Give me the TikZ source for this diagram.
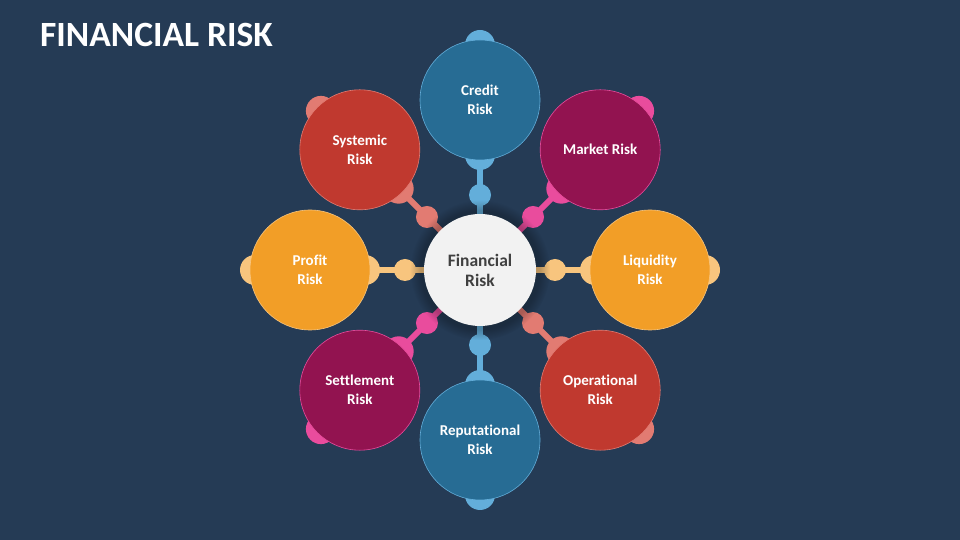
\documentclass[tikz,border=0pt]{standalone}
\usepackage{fontspec}
\setmainfont{Carlito}[Ligatures=NoCommon]
\usetikzlibrary{shadows}
\definecolor{bg}{HTML}{253B55}
\definecolor{mblue}{HTML}{276C94}
\definecolor{lblue}{HTML}{63AEDA}
\definecolor{mred}{HTML}{C0392F}
\definecolor{lred}{HTML}{E27B72}
\definecolor{mmag}{HTML}{921350}
\definecolor{lmag}{HTML}{E94C9D}
\definecolor{morange}{HTML}{F29E27}
\definecolor{lorange}{HTML}{F8C57E}
\definecolor{cwhite}{HTML}{F2F2F2}
\definecolor{ctext}{HTML}{404040}
\begin{document}
\begin{tikzpicture}[x=1pt,y=1pt,
  outer/.style={circle, minimum size=120pt, inner sep=0pt, align=center,
    font=\bfseries\fontsize{15}{19}\selectfont, text=white, line width=0.6pt},
  dotnode/.style={circle, minimum size=22pt, inner sep=0pt},
  blobnode/.style={circle, minimum size=30pt, inner sep=0pt},
  connector/.style={line width=6pt},
  centernode/.style={circle, minimum size=112pt, inner sep=0pt, fill=cwhite, align=center,
    font=\bfseries\fontsize{17.5}{20}\selectfont, text=ctext,
    circular glow={fill=black, opacity=0.25}}
]
\fill[bg] (0,0) rectangle (960,540);
\useasboundingbox (0,0) rectangle (960,540);
\node[anchor=west, inner sep=0pt, font=\bfseries\fontsize{35.5}{40}\selectfont, text=white] (title) at (40,505) {FINANCIAL RISK};
\coordinate (c0) at (480,270);
\def\items{credit/90/mblue/lblue/{Credit\\Risk},
  market/45/mmag/lmag/{Market Risk},
  liquidity/0/morange/lorange/{Liquidity\\Risk},
  operational/-45/mred/lred/{Operational\\Risk},
  reputational/-90/mblue/lblue/{Reputational\\Risk},
  settlement/-135/mmag/lmag/{Settlement\\Risk},
  profit/180/morange/lorange/{Profit\\Risk},
  systemic/135/mred/lred/{Systemic\\Risk}}
\foreach \n/\a/\m/\l/\t in \items {
  \path (c0) ++(\a:170) coordinate (p\n);
}
\foreach \n/\a/\m/\l/\t in \items {
  \draw[connector, \l] (c0) -- (p\n);
  \path (c0) ++(\a:75) node[dotnode, fill=\l] (d\n) {};
  \path (c0) ++(\a:115) node[blobnode, fill=\l] (bi\n) {};
  \path (c0) ++(\a:225) node[blobnode, fill=\l] (bo\n) {};
}
\foreach \n/\a/\m/\l/\t in \items {
  \node[outer, fill=\m, draw=\l] (o\n) at (p\n) {\t};
}
\node[centernode] (center) at (c0) {Financial\\Risk};
\end{tikzpicture}
\end{document}
